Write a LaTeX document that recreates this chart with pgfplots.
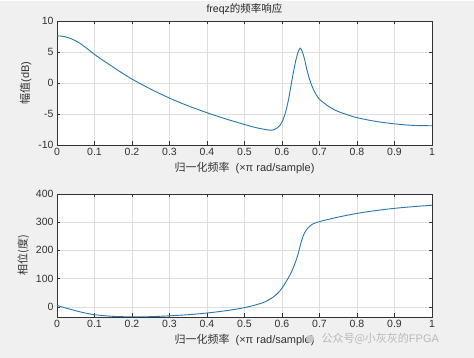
\documentclass[border=0pt]{standalone}
\usepackage{fontspec}
\setmainfont{Liberation Sans}
\newfontfamily\cjk{Noto Sans CJK SC}
\usepackage{pgfplots}
\pgfplotsset{compat=1.18}
\definecolor{figbg}{RGB}{240,240,240}
\definecolor{mblue}{RGB}{40,118,170}
\definecolor{axc}{RGB}{50,50,50}
\pgfplotsset{mstyle/.style={
  scale only axis, width=375pt, height=124pt, xmin=0, xmax=1,
  axis background/.style={fill=white},
  grid=major, major grid style={black!13, line width=0.4pt},
  axis line style={axc, line width=0.5pt},
  tick style={axc, line width=0.5pt}, tick align=inside, major tick length=3.5pt,
  xtick={0,0.1,0.2,0.3,0.4,0.5,0.6,0.7,0.8,0.9,1},
  xticklabels={0,0.1,0.2,0.3,0.4,0.5,0.6,0.7,0.8,0.9,1},
  ticklabel style={font=\fontsize{10.5}{12}\selectfont, text=axc},
  /pgf/number format/assume math mode=true,
  label style={font=\fontsize{11}{13}\selectfont, text=axc},
  xlabel={{\cjk 归一化频率}\ \ (×π rad/sample)},
  xlabel style={yshift=1pt},
}}
\begin{document}
\begin{tikzpicture}
\fill[figbg] (0,0) rectangle (474pt,357pt);
\begin{axis}[mstyle, at={(57pt,213pt)}, anchor=south west,
  ymin=-10, ymax=10, ytick={-10,-5,0,5,10},
  ylabel={{\cjk 幅值}(dB)},
  title={freqz{\cjk 的频率响应}},
  title style={font=\fontsize{10.5}{12}\selectfont, text=black!85, yshift=-3pt}]
\addplot[mblue, line width=0.9pt, smooth, tension=0.5] coordinates {
(0,7.6) (0.02,7.48) (0.04,7.08) (0.06,6.45) (0.08,5.55) (0.10,4.6) (0.12,3.75)
(0.15,2.55) (0.175,1.55) (0.2,0.62) (0.25,-1.0) (0.3,-2.45) (0.35,-3.7) (0.4,-4.8)
(0.45,-5.8) (0.5,-6.7) (0.53,-7.2) (0.55,-7.45) (0.565,-7.6) (0.575,-7.6)
(0.585,-7.35) (0.595,-6.8) (0.603,-5.9) (0.61,-4.6) (0.618,-2.5) (0.627,0.6)
(0.636,3.4) (0.643,5.0) (0.649,5.6) (0.655,4.9) (0.661,3.6) (0.667,2.0)
(0.675,0.3) (0.685,-1.2) (0.698,-2.5) (0.72,-3.6) (0.742,-4.4) (0.77,-5.05)
(0.8,-5.6) (0.85,-6.2) (0.9,-6.6) (0.95,-6.85) (1,-6.9)};
\end{axis}
\begin{axis}[mstyle, at={(57pt,41pt)}, anchor=south west, height=123pt,
  ymin=-36, ymax=400, ytick={0,100,200,300,400},
  ylabel={{\cjk 相位(度)}}]
\addplot[mblue, line width=0.9pt, smooth, tension=0.5] coordinates {
(0,5) (0.025,-5) (0.05,-14) (0.075,-22) (0.1,-28) (0.15,-34) (0.2,-35.5)
(0.25,-35) (0.3,-32) (0.35,-28) (0.4,-22) (0.45,-14) (0.5,-3) (0.55,15)
(0.58,38) (0.6,66) (0.62,110) (0.63,138) (0.64,174) (0.645,198) (0.65,224)
(0.655,246) (0.66,262) (0.67,281) (0.68,292) (0.7,302) (0.75,318) (0.8,331)
(0.85,341) (0.9,349) (0.95,355) (1,360)};
\end{axis}
\fill[gray!45] (310pt,19pt) circle (4pt);
\node[anchor=west, text=gray!55, font=\fontsize{11}{13}\selectfont] at (318pt,19pt) {{\cjk 公众号@小灰灰的}FPGA};
\end{tikzpicture}
\end{document}
